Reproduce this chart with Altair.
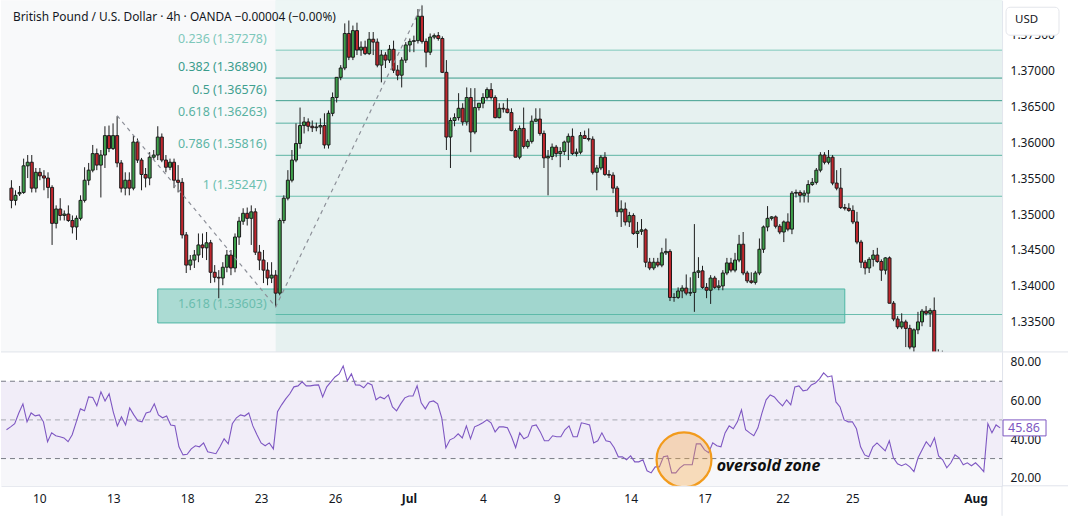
import altair as alt
import pandas as pd

# ---------------- data ----------------
OPEN = [1.3536,1.3519,1.3528,1.3530,1.3567,1.3572,1.3536,1.3558,1.3553,1.3550,
 1.3537,1.3487,1.3507,1.3498,1.3500,1.3491,1.3482,1.3494,1.3519,1.3547,
 1.3561,1.3584,1.3568,1.3582,1.3609,1.3591,1.3609,1.3571,1.3536,1.3547,
 1.3536,1.3600,1.3575,1.3555,1.3550,1.3579,1.3582,1.3607,1.3575,1.3565,
 1.3572,1.3547,1.3544,1.3471,1.3429,1.3436,1.3443,1.3457,1.3453,1.3460,
 1.3419,1.3412,1.3411,1.3426,1.3443,1.3425,1.3468,1.3490,1.3501,1.3494,
 1.3503,1.3447,1.3436,1.3422,1.3411,1.3415,1.3390,1.3491,1.3522,1.3547,
 1.3575,1.3598,1.3623,1.3628,1.3622,1.3620,1.3621,1.3623,1.3596,1.3640,
 1.3662,1.3690,1.3703,1.3751,1.3718,1.3755,1.3728,1.3732,1.3723,1.3743,
 1.3739,1.3707,1.3721,1.3714,1.3729,1.3700,1.3693,1.3714,1.3735,1.3740,
 1.3741,1.3775,1.3740,1.3725,1.3746,1.3748,1.3744,1.3697,1.3607,1.3630,
 1.3634,1.3647,1.3628,1.3662,1.3614,1.3648,1.3654,1.3662,1.3673,1.3662,
 1.3634,1.3647,1.3646,1.3641,1.3616,1.3579,1.3619,1.3594,1.3601,1.3629,
 1.3632,1.3612,1.3578,1.3580,1.3593,1.3584,1.3587,1.3600,1.3608,1.3584,
 1.3586,1.3609,1.3605,1.3604,1.3558,1.3564,1.3579,1.3555,1.3554,1.3536,
 1.3503,1.3507,1.3489,1.3498,1.3473,1.3476,1.3478,1.3433,1.3425,1.3433,
 1.3429,1.3446,1.3448,1.3384,1.3384,1.3393,1.3397,1.3390,1.3391,1.3419,
 1.3421,1.3398,1.3394,1.3411,1.3398,1.3400,1.3418,1.3432,1.3422,1.3436,
 1.3458,1.3418,1.3407,1.3405,1.3418,1.3451,1.3482,1.3494,1.3496,1.3483,
 1.3475,1.3489,1.3479,1.3529,1.3530,1.3526,1.3529,1.3541,1.3544,1.3561,
 1.3582,1.3572,1.3579,1.3543,1.3536,1.3509,1.3508,1.3505,1.3489,1.3461,
 1.3433,1.3425,1.3437,1.3443,1.3434,1.3422,1.3439,1.3376,1.3354,1.3343,
 1.3350,1.3341,1.3315,1.3339,1.3350,1.3365,1.3362,1.3366,1.3290,1.3265,
 1.3250,1.3262,1.3280,1.3272,1.3250,1.3256,1.3245,1.3255,1.3232,1.3160,
 1.3275,1.3255,1.3280]

HIGH = [1.3547,1.3533,1.3539,1.3577,1.3582,1.3582,1.3564,1.3564,1.3561,1.3558,
 1.3540,1.3512,1.3522,1.3505,1.3512,1.3498,1.3498,1.3526,1.3565,1.3571,
 1.3596,1.3591,1.3589,1.3622,1.3623,1.3626,1.3636,1.3575,1.3558,1.3558,
 1.3609,1.3605,1.3578,1.3564,1.3586,1.3589,1.3622,1.3612,1.3582,1.3577,
 1.3577,1.3568,1.3550,1.3475,1.3443,1.3450,1.3473,1.3473,1.3475,1.3464,
 1.3429,1.3422,1.3433,1.3450,1.3450,1.3473,1.3496,1.3508,1.3509,1.3512,
 1.3508,1.3457,1.3450,1.3433,1.3433,1.3422,1.3494,1.3526,1.3561,1.3589,
 1.3626,1.3648,1.3635,1.3633,1.3630,1.3627,1.3633,1.3640,1.3644,1.3669,
 1.3690,1.3707,1.3765,1.3769,1.3762,1.3766,1.3740,1.3741,1.3753,1.3753,
 1.3744,1.3728,1.3725,1.3735,1.3741,1.3707,1.3718,1.3739,1.3744,1.3748,
 1.3785,1.3790,1.3744,1.3751,1.3751,1.3753,1.3747,1.3714,1.3634,1.3640,
 1.3668,1.3654,1.3676,1.3675,1.3675,1.3654,1.3668,1.3676,1.3682,1.3665,
 1.3654,1.3654,1.3661,1.3647,1.3619,1.3623,1.3648,1.3604,1.3637,1.3647,
 1.3647,1.3616,1.3589,1.3598,1.3596,1.3593,1.3602,1.3612,1.3619,1.3591,
 1.3614,1.3616,1.3619,1.3608,1.3568,1.3582,1.3586,1.3561,1.3558,1.3539,
 1.3519,1.3516,1.3503,1.3501,1.3489,1.3493,1.3480,1.3439,1.3439,1.3439,
 1.3453,1.3466,1.3451,1.3390,1.3398,1.3401,1.3416,1.3412,1.3486,1.3440,
 1.3428,1.3404,1.3415,1.3414,1.3408,1.3422,1.3439,1.3439,1.3446,1.3471,
 1.3475,1.3421,1.3419,1.3421,1.3466,1.3484,1.3511,1.3497,1.3498,1.3486,
 1.3491,1.3501,1.3532,1.3534,1.3533,1.3533,1.3547,1.3550,1.3564,1.3586,
 1.3586,1.3589,1.3582,1.3561,1.3564,1.3514,1.3515,1.3512,1.3503,1.3464,
 1.3436,1.3440,1.3450,1.3453,1.3437,1.3440,1.3441,1.3379,1.3358,1.3362,
 1.3353,1.3346,1.3341,1.3364,1.3368,1.3372,1.3369,1.3384,1.3312,1.3310,
 1.3270,1.3285,1.3288,1.3278,1.3262,1.3262,1.3262,1.3258,1.3238,1.3282,
 1.3285,1.3290,1.3292]

LOW = [1.3508,1.3512,1.3525,1.3528,1.3550,1.3530,1.3530,1.3547,1.3533,1.3522,
 1.3457,1.3480,1.3491,1.3491,1.3489,1.3473,1.3464,1.3491,1.3516,1.3540,
 1.3558,1.3561,1.3523,1.3564,1.3586,1.3589,1.3565,1.3530,1.3526,1.3526,
 1.3533,1.3571,1.3533,1.3537,1.3540,1.3575,1.3575,1.3572,1.3558,1.3561,
 1.3536,1.3530,1.3466,1.3418,1.3422,1.3425,1.3433,1.3439,1.3436,1.3404,
 1.3405,1.3383,1.3401,1.3419,1.3415,1.3419,1.3457,1.3485,1.3484,1.3457,
 1.3443,1.3422,1.3404,1.3401,1.3404,1.3371,1.3387,1.3487,1.3519,1.3544,
 1.3572,1.3591,1.3612,1.3615,1.3614,1.3615,1.3611,1.3591,1.3591,1.3636,
 1.3655,1.3686,1.3700,1.3714,1.3714,1.3721,1.3720,1.3721,1.3721,1.3721,
 1.3704,1.3683,1.3703,1.3710,1.3696,1.3686,1.3676,1.3710,1.3725,1.3725,
 1.3737,1.3737,1.3704,1.3721,1.3743,1.3741,1.3696,1.3589,1.3564,1.3622,
 1.3630,1.3623,1.3623,1.3586,1.3611,1.3644,1.3647,1.3659,1.3659,1.3633,
 1.3633,1.3641,1.3640,1.3615,1.3579,1.3576,1.3591,1.3591,1.3598,1.3628,
 1.3609,1.3564,1.3526,1.3575,1.3579,1.3565,1.3582,1.3575,1.3582,1.3580,
 1.3583,1.3605,1.3601,1.3555,1.3533,1.3561,1.3553,1.3550,1.3529,1.3496,
 1.3482,1.3484,1.3482,1.3471,1.3453,1.3471,1.3426,1.3422,1.3422,1.3426,
 1.3426,1.3443,1.3379,1.3378,1.3382,1.3383,1.3387,1.3386,1.3364,1.3411,
 1.3396,1.3383,1.3375,1.3396,1.3394,1.3394,1.3415,1.3419,1.3419,1.3433,
 1.3415,1.3404,1.3403,1.3402,1.3415,1.3446,1.3476,1.3491,1.3480,1.3472,
 1.3461,1.3476,1.3472,1.3523,1.3516,1.3516,1.3516,1.3539,1.3541,1.3558,
 1.3569,1.3569,1.3540,1.3533,1.3507,1.3505,1.3503,1.3486,1.3458,1.3425,
 1.3416,1.3418,1.3427,1.3432,1.3407,1.3416,1.3376,1.3351,1.3340,1.3340,
 1.3315,1.3312,1.3307,1.3333,1.3344,1.3359,1.3343,1.3280,1.3255,1.3240,
 1.3240,1.3255,1.3265,1.3245,1.3240,1.3240,1.3240,1.3225,1.3140,1.3155,
 1.3245,1.3250,1.3265]

CLOSE = [1.3519,1.3526,1.3530,1.3567,1.3572,1.3536,1.3558,1.3553,1.3550,1.3537,
 1.3487,1.3507,1.3498,1.3500,1.3491,1.3482,1.3494,1.3519,1.3547,1.3561,
 1.3584,1.3568,1.3582,1.3609,1.3591,1.3609,1.3571,1.3536,1.3547,1.3536,
 1.3600,1.3575,1.3555,1.3550,1.3579,1.3582,1.3607,1.3575,1.3565,1.3572,
 1.3547,1.3544,1.3471,1.3429,1.3436,1.3443,1.3457,1.3453,1.3460,1.3419,
 1.3412,1.3411,1.3426,1.3443,1.3425,1.3468,1.3490,1.3501,1.3494,1.3503,
 1.3447,1.3436,1.3422,1.3411,1.3415,1.3390,1.3491,1.3522,1.3547,1.3575,
 1.3598,1.3623,1.3628,1.3622,1.3620,1.3621,1.3623,1.3596,1.3640,1.3662,
 1.3690,1.3703,1.3751,1.3718,1.3755,1.3728,1.3732,1.3723,1.3743,1.3739,
 1.3707,1.3721,1.3714,1.3729,1.3700,1.3693,1.3714,1.3735,1.3740,1.3741,
 1.3775,1.3740,1.3725,1.3746,1.3748,1.3744,1.3697,1.3607,1.3630,1.3634,
 1.3647,1.3628,1.3662,1.3614,1.3648,1.3654,1.3662,1.3673,1.3662,1.3634,
 1.3647,1.3646,1.3641,1.3616,1.3579,1.3619,1.3594,1.3601,1.3629,1.3632,
 1.3612,1.3578,1.3580,1.3593,1.3584,1.3587,1.3600,1.3608,1.3584,1.3586,
 1.3609,1.3605,1.3604,1.3558,1.3564,1.3579,1.3555,1.3554,1.3536,1.3503,
 1.3507,1.3489,1.3498,1.3473,1.3476,1.3478,1.3433,1.3425,1.3433,1.3429,
 1.3446,1.3448,1.3384,1.3384,1.3393,1.3397,1.3390,1.3391,1.3419,1.3421,
 1.3398,1.3394,1.3411,1.3398,1.3400,1.3418,1.3432,1.3422,1.3436,1.3458,
 1.3418,1.3407,1.3405,1.3418,1.3451,1.3482,1.3494,1.3496,1.3483,1.3475,
 1.3489,1.3479,1.3529,1.3530,1.3526,1.3529,1.3541,1.3544,1.3561,1.3582,
 1.3572,1.3579,1.3543,1.3536,1.3509,1.3508,1.3505,1.3489,1.3461,1.3433,
 1.3425,1.3437,1.3443,1.3434,1.3422,1.3439,1.3376,1.3354,1.3343,1.3350,
 1.3341,1.3315,1.3339,1.3350,1.3365,1.3362,1.3366,1.3290,1.3265,1.3250,
 1.3262,1.3280,1.3272,1.3250,1.3256,1.3245,1.3255,1.3232,1.3160,1.3275,
 1.3255,1.3280,1.3272]

RSI = [44.9,46.4,48.0,53.6,58.3,49.0,53.6,52.1,52.6,49.0,
 38.7,43.3,41.8,41.3,40.7,38.7,42.3,49.0,55.7,54.7,
 61.9,61.6,57.3,64.5,59.8,63.5,54.2,46.9,51.6,47.4,
 56.2,52.6,49.5,49.0,53.6,54.2,58.3,52.6,51.1,52.0,
 47.4,47.0,36.1,31.9,32.2,35.0,36.6,36.1,38.1,33.5,
 33.0,32.5,36.1,40.2,37.6,48.0,51.1,52.6,52.0,53.6,
 46.9,42.3,38.1,36.6,38.1,35.0,54.2,57.8,60.9,63.5,
 67.1,67.6,69.7,67.6,67.6,68.0,68.1,61.9,67.1,69.7,
 72.2,73.8,77.9,70.2,73.8,68.1,68.0,66.6,69.1,68.1,
 60.4,61.9,60.9,62.9,56.7,54.7,58.3,61.4,62.4,62.4,
 67.6,58.8,55.7,59.3,59.8,58.3,51.1,35.6,39.7,40.7,
 42.8,40.7,46.9,40.2,46.4,47.4,48.5,50.0,48.5,43.8,
 46.4,46.4,45.9,41.3,35.6,43.3,40.2,41.3,46.9,47.4,
 43.8,39.2,39.2,41.8,41.3,41.3,44.9,46.9,41.3,41.3,
 48.5,48.0,47.4,38.1,39.2,43.3,39.2,38.7,35.6,30.9,
 30.9,29.4,31.4,28.3,28.3,29.4,23.7,22.6,25.7,25.7,
 30.9,31.4,22.6,22.6,25.2,26.8,26.8,26.8,37.6,37.6,
 34.5,33.0,38.1,36.6,36.1,43.3,46.9,45.4,49.0,55.2,
 44.9,43.3,41.8,45.9,53.6,60.4,62.9,61.9,59.3,57.3,
 60.4,57.8,67.1,67.6,65.0,65.5,68.1,69.1,71.2,74.3,
 72.2,72.8,59.3,56.7,50.0,49.0,49.0,45.4,36.1,31.9,
 30.9,36.1,38.1,36.1,34.0,39.2,30.4,27.3,26.3,27.3,
 25.7,23.2,30.4,34.5,38.7,36.1,40.7,31.4,29.4,25.2,
 27.8,31.9,30.4,26.8,27.8,26.3,27.8,25.7,23.2,48.0,
 43.3,47.4,45.86]

FIB_LEVELS = ["0.236", "0.382", "0.5", "0.618", "0.786", "1", "1.618"]
FIB_PRICES = [1.37278, 1.36890, 1.36576, 1.36263, 1.35816, 1.35247, 1.33603]
FIB_START_BAR = 65
ZONE_BARS = [36, 205]
ZONE_PRICES = [1.33958, 1.33486]
TREND_BARS = [26, 65, 101]
TREND_PRICES = [1.36368, 1.33710, 1.37905]
PRICE_TICKS = [1.335, 1.340, 1.345, 1.350, 1.355, 1.360, 1.365, 1.370, 1.375]
RSI_TICKS = [20, 40, 60, 80]
RSI_EDGES = [70, 30]
RSI_MID = [50]
X_TICK_BARS = [8, 26, 44, 62, 80, 98, 116, 134, 152, 170, 189, 206, 236]
X_TICK_LABELS = ["10", "13", "18", "23", "26", "Jul", "4", "9", "14", "17", "22", "25", "Aug"]
MONTH_LABELS = ["Jul", "Aug"]
OVERSOLD_BAR, OVERSOLD_RSI = 165, 29.4
OVERSOLD_TEXT_BAR, OVERSOLD_TEXT_RSI = 173, 26.3
TITLE = "British Pound / U.S. Dollar \u00b7 4h \u00b7 OANDA  \u22120.00004 (\u22120.00%)"

# ---------------- styles ----------------
FONT = "Noto Sans"
TXT = "#131722"
W, H1, H2 = 1002, 352, 134
FIB_COLORS = ["#7ec8ba", "#3a9c8c", "#3f9f8f", "#58b2a2", "#5cb5a5", "#6bbfb0", "#6abdae"]
UP, DOWN, EDGE = "#3d9f4a", "#c0262d", "#1c1c1c"

xscale = alt.Scale(domain=[-1.338, 242.46], nice=False, zero=False)
pscale = alt.Scale(domain=[1.33083, 1.37972], nice=False, zero=False)
rscale = alt.Scale(domain=[15.92, 85.17], nice=False, zero=False)

price_axis = alt.Axis(orient="right", values=PRICE_TICKS, format=".5f", grid=False, ticks=False,
                      labelPadding=8, domainColor="#e0e3eb", labelFont=FONT, labelFontSize=12,
                      labelColor=TXT, title=None, minExtent=67, maxExtent=67)
rsi_axis = alt.Axis(orient="right", values=RSI_TICKS, format=".2f", grid=False, ticks=False,
                    labelPadding=8, domainColor="#e0e3eb", labelFont=FONT, labelFontSize=12,
                    labelColor=TXT, title=None, minExtent=67, maxExtent=67)
label_expr = " : ".join(f"datum.value == {b} ? '{t}'" for b, t in zip(X_TICK_BARS, X_TICK_LABELS)) + " : ''"
month_test = " || ".join(f"datum.value == {b}" for b, t in zip(X_TICK_BARS, X_TICK_LABELS) if t in MONTH_LABELS)
x_axis = alt.Axis(orient="bottom", values=X_TICK_BARS, labelExpr=label_expr, grid=False, ticks=False,
                  domainColor="#e0e3eb", labelPadding=8, labelFont=FONT, labelFontSize=12,
                  labelColor=TXT, title=None, minExtent=30, maxExtent=30, labelFlush=False,
                  labelOverlap=False,
                  labelFontWeight={"condition": {"test": month_test, "value": "bold"}, "value": "normal"})


def XT(f="bar"):
    return alt.X(f"{f}:Q", scale=xscale, axis=None)


def XB(f="bar"):
    return alt.X(f"{f}:Q", scale=xscale, axis=x_axis)


def PY(f):
    return alt.Y(f"{f}:Q", scale=pscale, axis=price_axis)


def RY(f):
    return alt.Y(f"{f}:Q", scale=rscale, axis=rsi_axis)


N = len(CLOSE)
candles = pd.DataFrame({"bar": list(range(N)), "open": OPEN, "high": HIGH, "low": LOW, "close": CLOSE})
rsi_df = pd.DataFrame({"bar": list(range(N)), "rsi": RSI})
fib_df = pd.DataFrame({"bar": [FIB_START_BAR] * len(FIB_LEVELS), "level": FIB_LEVELS, "price": FIB_PRICES,
                       "label": [f"{l} ({p:.5f})" for l, p in zip(FIB_LEVELS, FIB_PRICES)],
                       "col": FIB_COLORS})
zone_df = pd.DataFrame({"x0": [ZONE_BARS[0]], "x1": [ZONE_BARS[1]], "p0": [ZONE_PRICES[0]], "p1": [ZONE_PRICES[1]]})
trend_df = pd.DataFrame({"bar": TREND_BARS, "price": TREND_PRICES, "o": list(range(len(TREND_BARS)))})
one = pd.DataFrame({"a": [0]})
fib_color = alt.Color("col:N", scale=None, legend=None)

# ---------------- main price panel ----------------
bg = alt.Chart(one).mark_rect(color="#f8f9fa").encode(
    x=alt.value(0), x2=alt.value(W), y=alt.value(0), y2=alt.value(H1))
fib_bg = alt.Chart(pd.DataFrame({"bar": [FIB_START_BAR]})).mark_rect(color="#e6f1f0").encode(
    x=XT(), x2=alt.value(W), y=alt.value(0), y2=alt.value(H1))
fib_top = alt.Chart(pd.DataFrame({"bar": [FIB_START_BAR], "p": [FIB_PRICES[0]]})).mark_rect(color="#edf6f5").encode(
    x=XT(), x2=alt.value(W), y=PY("p"), y2=alt.value(0))
zone = alt.Chart(zone_df).mark_rect(fill="#4db6a4", fillOpacity=0.45, stroke="#4db6a4", strokeWidth=1).encode(
    x=XT("x0"), x2="x1:Q", y=PY("p0"), y2="p1:Q")
fib_lines = alt.Chart(fib_df).mark_rule(strokeWidth=1).encode(
    x=XT(), x2=alt.value(W), y=PY("price"), color=fib_color)
fib_text = alt.Chart(fib_df).mark_text(align="right", baseline="bottom", dx=-9, dy=-4, fontSize=12.5, font=FONT).encode(
    x=XT(), y=PY("price"), text="label:N", color=fib_color)
wicks = alt.Chart(candles).mark_rule(color=EDGE, strokeWidth=1, clip=True).encode(
    x=XT(), y=PY("low"), y2="high:Q")
bodies_up = alt.Chart(candles).transform_filter("datum.close >= datum.open").mark_bar(
    size=3, fill=UP, stroke=EDGE, strokeWidth=1, clip=True).encode(x=XT(), y=PY("open"), y2="close:Q")
bodies_dn = alt.Chart(candles).transform_filter("datum.close < datum.open").mark_bar(
    size=3, fill=DOWN, stroke=EDGE, strokeWidth=1, clip=True).encode(x=XT(), y=PY("open"), y2="close:Q")
trend = alt.Chart(trend_df).mark_line(strokeDash=[4, 4], color="#8d9099", strokeWidth=1.2, clip=True).encode(
    x=XT(), y=PY("price"), order="o:Q")
title = alt.Chart(one).mark_text(text=TITLE, align="left", baseline="middle", fontSize=11.9, font=FONT,
                                 color=TXT).encode(x=alt.value(12), y=alt.value(17))
usd_box = alt.Chart(one).mark_rect(fill="#ffffff", stroke="#e3e5ea", cornerRadius=4).encode(
    x=alt.value(1006), x2=alt.value(1059), y=alt.value(7), y2=alt.value(35))
usd_text = alt.Chart(one).mark_text(text="USD", align="left", baseline="middle", fontSize=11.5, font=FONT,
                                    color=TXT).encode(x=alt.value(1015), y=alt.value(20))
sep = alt.Chart(one).mark_rule(color="#e0e3eb", strokeWidth=1).encode(
    x=alt.value(0), x2=alt.value(1068), y=alt.value(H1))

top = alt.layer(bg, fib_bg, fib_top, fib_lines, zone, wicks, bodies_up, bodies_dn, trend, fib_text, title,
                usd_box, usd_text, sep).properties(width=W, height=H1)

# ---------------- RSI panel ----------------
rbg = alt.Chart(pd.DataFrame({"v": [RSI_EDGES[1]]})).mark_rect(color="#f7f7fa").encode(
    x=alt.value(0), x2=alt.value(W), y=RY("v"), y2=alt.value(H2))
band = alt.Chart(pd.DataFrame({"v0": [RSI_EDGES[0]], "v1": [RSI_EDGES[1]]})).mark_rect(
    color="#7e57c2", opacity=0.11).encode(x=alt.value(0), x2=alt.value(W), y=RY("v0"), y2="v1:Q")
edges = alt.Chart(pd.DataFrame({"v": RSI_EDGES})).mark_rule(strokeDash=[5, 4], strokeWidth=1, color="#787b86").encode(
    y=RY("v"), x=alt.value(0), x2=alt.value(W))
mid = alt.Chart(pd.DataFrame({"v": RSI_MID})).mark_rule(strokeDash=[5, 4], strokeWidth=1, color="#a7aab2").encode(
    y=RY("v"), x=alt.value(0), x2=alt.value(W))
rline = alt.Chart(rsi_df).mark_line(color="#7e57c2", strokeWidth=1.1, clip=True).encode(
    x=XB(), y=RY("rsi"))
circle = alt.Chart(pd.DataFrame({"bar": [OVERSOLD_BAR], "v": [OVERSOLD_RSI]})).mark_point(
    shape="circle", size=3019, filled=True, fill="#f5a742", fillOpacity=0.35, stroke="#f29b1d",
    strokeWidth=2.2, strokeOpacity=1, opacity=1, clip=True).encode(x=XB(), y=RY("v"))
os_text = alt.Chart(pd.DataFrame({"bar": [OVERSOLD_TEXT_BAR], "v": [OVERSOLD_TEXT_RSI], "t": ["oversold zone"]})).mark_text(
    align="left", baseline="middle", fontSize=16, fontStyle="italic", fontWeight="bold", font=FONT,
    color="#111111").encode(x=XB(), y=RY("v"), text="t:N")
last_df = pd.DataFrame({"v": [RSI[-1]], "t": [f"{RSI[-1]:.2f}"]})
last_box = alt.Chart(last_df).mark_rect(width=43, height=16, fill="#ffffff", stroke="#7e57c2", strokeWidth=1).encode(
    x=alt.value(1024.5), y=RY("v"))
last_text = alt.Chart(last_df).mark_text(align="left", baseline="middle", fontSize=12.5, font=FONT,
                                         color="#7e57c2").encode(x=alt.value(1008), y=RY("v"), text="t:N")
vsep = alt.Chart(one).mark_rule(color="#e0e3eb", strokeWidth=1).encode(
    x=alt.value(W), y=alt.value(H2), y2=alt.value(H2 + 30))
hsep = alt.Chart(one).mark_rule(color="#e0e3eb", strokeWidth=1).encode(
    x=alt.value(W), x2=alt.value(1068), y=alt.value(H2))

bottom = alt.layer(rbg, band, edges, mid, rline, circle, os_text, last_box, last_text, vsep, hsep).properties(
    width=W, height=H2)

chart = alt.vconcat(top, bottom, spacing=0, bounds="flush").properties(
    padding=0, background="#ffffff").configure_view(strokeWidth=0)

chart.save("out.html", embed_options={"renderer": "svg", "actions": False})
